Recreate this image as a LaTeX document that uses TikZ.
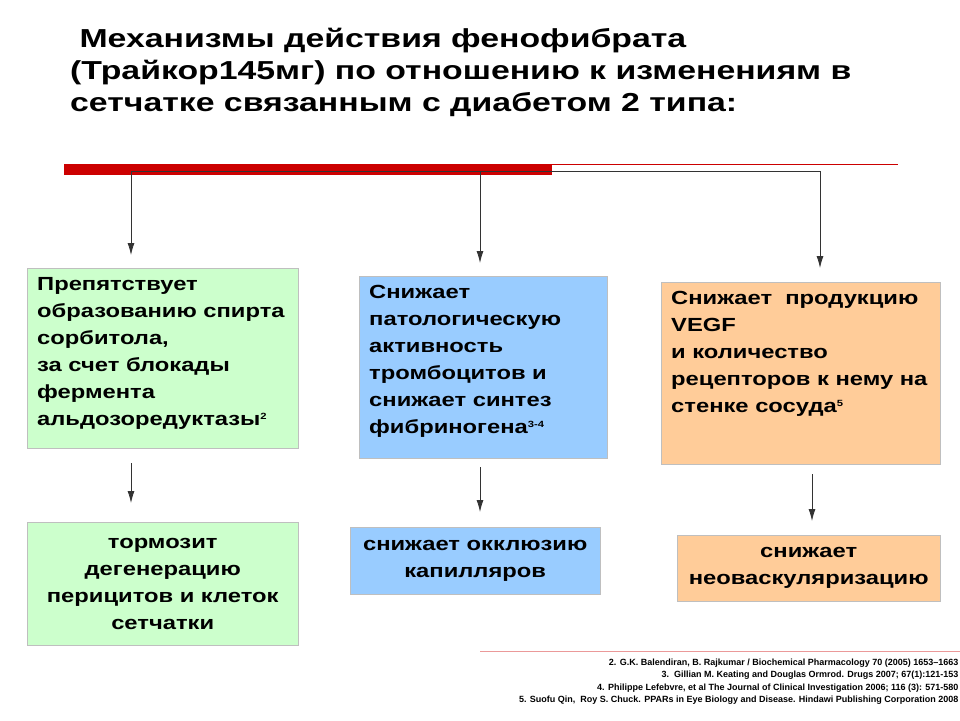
\documentclass[tikz,border=0pt]{standalone}
\usepackage{fontspec}
\setmainfont{Liberation Sans}
\newfontfamily\widefont{Liberation Sans}[FakeStretch=1.25]
\newfontfamily\titlefont{Liberation Sans}[FakeStretch=1.3]
\usetikzlibrary{positioning,arrows.meta}
\definecolor{boxgreen}{HTML}{CCFFCC}
\definecolor{boxblue}{HTML}{99CCFF}
\definecolor{boxorange}{HTML}{FFCC99}
\definecolor{barred}{HTML}{CC0000}
\begin{document}
\begin{tikzpicture}[x=1pt,y=-1pt,
    effect/.style={rectangle,draw=gray!50,anchor=north west,inner sep=0pt,
		font=\widefont\fontsize{19}{27}\selectfont\bfseries},
    result/.style={effect,align=center},
    boxtext/.style={anchor=north west,align=left,inner sep=0pt,
		font=\widefont\fontsize{19}{27}\selectfont\bfseries},
    link/.style={draw=black!80,thick,-{Latex[length=12pt,width=7pt]}},
    ]
\useasboundingbox (0,0) rectangle (960,720);
% title
\node [anchor=north west,align=left,inner sep=0pt,font=\titlefont\fontsize{26}{32}\selectfont\bfseries]
  (title) at (70,28) {\ Механизмы действия фенофибрата\\(Трайкор145мг) по отношению к изменениям в\\сетчатке связанным с диабетом 2 типа:};
% bar
\fill [barred] (64,164) rectangle (552,175);
\draw [barred,thick] (552,164) -- (898,164);
\coordinate (busl) at (131,171);
\coordinate (busm) at (480,171);
\coordinate (busr) at (820,171);
\draw [black!80,thick] (busl) -- (busr);
% upper boxes
\node [effect,fill=boxgreen,minimum width=271pt,minimum height=180pt] (sorbitol) at (27,268) {};
\node [boxtext] at (37,277)
  {Препятствует\\образованию спирта\\сорбитола,\\за счет блокады\\фермента\\альдозоредуктазы\textsuperscript{\small 2}};
\node [effect,fill=boxblue,minimum width=248pt,minimum height=182pt] (platelets) at (359,276) {};
\node [boxtext] at (369,285)
  {Снижает\\патологическую\\активность\\тромбоцитов и\\снижает синтез\\фибриногена\textsuperscript{\small 3-4}};
\node [effect,fill=boxorange,minimum width=279pt,minimum height=182pt] (vegf) at (661,282) {};
\node [boxtext] at (671,291)
  {Снижает\ \ продукцию\\VEGF\\и количество\\рецепторов к нему на\\стенке сосуда\textsuperscript{\small 5}};
% lower boxes
\node [result,fill=boxgreen,minimum width=271pt,minimum height=123pt] (pericytes) at (27,522)
  {тормозит\\дегенерацию\\перицитов и клеток\\сетчатки};
\node [result,fill=boxblue,minimum width=250pt,minimum height=67pt] (occlusion) at (350,527)
  {снижает окклюзию\\капилляров};
\node [result,fill=boxorange,minimum width=263pt,minimum height=66pt] (neovasc) at (677,535)
  {снижает\\неоваскуляризацию};
% links
\draw [link] (busl) -- (131,255);
\draw [link] (busm) -- (480,263);
\draw [link] (busr) -- (820,268);
\draw [link] (131,463) -- (131,503);
\draw [link] (480,467) -- (480,512);
\draw [link] (812,474) -- (812,521);
% references
\node [anchor=north east,align=right,font=\fontsize{9}{12.5}\selectfont\bfseries] (refs) at (962,655)
  {2. G.K. Balendiran, B. Rajkumar / Biochemical Pharmacology 70 (2005) 1653–1663\\
   3.\ \ Gillian M. Keating and Douglas Ormrod. Drugs 2007; 67(1):121-153\\
   4. Philippe Lefebvre, et al The Journal of Clinical Investigation 2006; 116 (3): 571-580\\
   5. Suofu Qin,\ \ Roy S. Chuck. PPARs in Eye Biology and Disease. Hindawi Publishing Corporation 2008};
\draw [barred!40] (480,651) -- (960,651);
\end{tikzpicture}
\end{document}
